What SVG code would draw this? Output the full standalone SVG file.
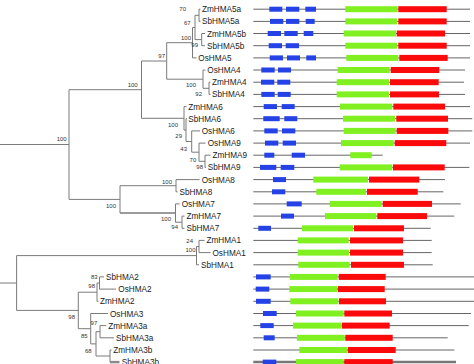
<svg xmlns="http://www.w3.org/2000/svg" width="474" height="364" viewBox="0 0 474 364">
<style>
.t{font-family:"Liberation Sans",Arial,sans-serif;font-size:8.2px;fill:#1a1a1a}
.b{font-family:"Liberation Sans",Arial,sans-serif;font-size:6px;fill:#333;text-anchor:end}
.e{stroke:#7a7a7a;stroke-width:1;fill:none}
.ln{stroke:#666;stroke-width:1}
.bl{fill:#2442e6}
.gr{fill:#80f020}
.rd{fill:#fa0a0a}
</style>
<rect width="474" height="364" fill="#fff"/>
<g id="connectors">
<path class="e" d="M0,144.5H69M69,89.7V199.4M69,89.7H141.5M69,199.4H120
M141.5,61V118.3M141.5,61H166.7M141.5,118.3H184
M166.7,42.7V79.2M166.7,42.7H192.5M166.7,79.2H203
M192.5,27.5V57.9M192.5,27.5H195M192.5,57.9H196.5
M195,15.3V39.6M195,15.3H199M195,39.6H201.7
M199,9.2V21.4M199,9.2H200.5M199,21.4H200.5
M201.7,33.5V45.7M201.7,33.5H205M201.7,45.7H205
M203,70.05V88.3M203,70.05H205.5M203,88.3H209
M209,82.2V94.4M209,82.2H210.5M209,94.4H210.5
M184,106.6V130.1M184,106.6H186.5M184,130.1H186
M186,118.7V141.5M186,118.7H187M186,141.5H191.7
M191.7,130.9V152.2M191.7,130.9H200M191.7,152.2H199
M199,143.1V161.3M199,143.1H205.5M199,161.3H205
M205,155.2V167.4M205,155.2H210.5M205,167.4H206
M120,185.7V213M120,185.7H176
M176,179.6V191.8M176,179.6H199.5M176,191.8H177.5
M175.5,203.9V222.2M175.5,203.9H179.5M175.5,222.2H182
M182,216.1V228.3M182,216.1H184.5M182,228.3H184.5
M0,283H16.6M16.6,255.6V310.4M16.6,255.6H196.5M16.6,310.4H78.3
M196.5,246.5V264.8M196.5,246.5H199M196.5,264.8H199
M199,240.4V252.6M199,240.4H204.5M199,252.6H210.5
M78.3,292.2V328.7M78.3,292.2H97M78.3,328.7H90.7
M97,283V301.3M97,283H99.5M97,301.3H98.5
M99.5,276.9V289.1M99.5,276.9H104M99.5,289.1H116
M90.7,313.5V343.9M90.7,313.5H108M90.7,343.9H96
M96,331.7V356M96,331.7H100M96,356H110
M100,325.6V337.8M100,325.6H106.3M100,337.8H114
M110,350V362.1M110,350H111.5"/>
<path class="e" style="stroke-width:1.5" d="M120,213H175.5"/>
<path d="M110,362.1H119.5" stroke="#8a8a8a" stroke-width="2.5"/>
</g>
<g id="bootstrap">
<text class="b" x="186" y="11">70</text>
<text class="b" x="190.7" y="24.8">67</text>
<text class="b" x="191" y="39.6">100</text>
<text class="b" x="198" y="47">99</text>
<text class="b" x="165" y="58">97</text>
<text class="b" x="137.7" y="86.5">100</text>
<text class="b" x="196" y="87">100</text>
<text class="b" x="202" y="95.5">92</text>
<text class="b" x="66.7" y="141.3">100</text>
<text class="b" x="178" y="126.7">100</text>
<text class="b" x="182" y="138.2">29</text>
<text class="b" x="187" y="150.7">43</text>
<text class="b" x="196.3" y="161.7">70</text>
<text class="b" x="203" y="168.7">98</text>
<text class="b" x="116" y="208">100</text>
<text class="b" x="172" y="183.5">100</text>
<text class="b" x="171" y="220.7">100</text>
<text class="b" x="178" y="229.3">94</text>
<text class="b" x="193" y="242.7">24</text>
<text class="b" x="195.5" y="252.3">100</text>
<text class="b" x="97.7" y="278.7">83</text>
<text class="b" x="95" y="287.7">98</text>
<text class="b" x="75" y="318.7">98</text>
<text class="b" x="97.3" y="325.3">97</text>
<text class="b" x="87.7" y="337.7">85</text>
<text class="b" x="91.7" y="353">68</text>
</g>
<g id="ZmHMA5a"><text class="t" x="202" y="12.2">ZmHMA5a</text><line class="ln" x1="253.3" y1="9.2" x2="470" y2="9.2"/><rect class="bl" x="269.3" y="6.7" width="13" height="5"/><rect class="bl" x="286" y="6.7" width="13.3" height="5"/><rect class="bl" x="305.3" y="6.7" width="10.7" height="5"/><rect class="gr" x="345.3" y="6.2" width="52.4" height="6"/><rect class="rd" x="398.3" y="6.2" width="48.4" height="6"/></g>
<g id="SbHMA5a"><text class="t" x="202" y="24.4">SbHMA5a</text><line class="ln" x1="253.3" y1="21.4" x2="470" y2="21.4"/><rect class="bl" x="270" y="18.9" width="13.3" height="5"/><rect class="bl" x="286" y="18.9" width="13.3" height="5"/><rect class="bl" x="305.7" y="18.9" width="9" height="5"/><rect class="gr" x="345.3" y="18.4" width="52" height="6"/><rect class="rd" x="398.3" y="18.4" width="48.4" height="6"/></g>
<g id="ZmHMA5b"><text class="t" x="207" y="36.5">ZmHMA5b</text><line class="ln" x1="253.3" y1="33.5" x2="470" y2="33.5"/><rect class="bl" x="267.7" y="31" width="13.3" height="5"/><rect class="bl" x="284.3" y="31" width="13.4" height="5"/><rect class="bl" x="303.7" y="31" width="9.6" height="5"/><rect class="gr" x="343.7" y="30.5" width="52.3" height="6"/><rect class="rd" x="396.7" y="30.5" width="48.3" height="6"/></g>
<g id="SbHMA5b"><text class="t" x="207" y="48.7">SbHMA5b</text><line class="ln" x1="253.3" y1="45.7" x2="470" y2="45.7"/><rect class="bl" x="268.7" y="43.2" width="13.3" height="5"/><rect class="bl" x="285.7" y="43.2" width="13.3" height="5"/><rect class="gr" x="345.3" y="42.7" width="52" height="6"/><rect class="rd" x="398.3" y="42.7" width="48.4" height="6"/></g>
<g id="OsHMA5"><text class="t" x="198.3" y="60.9">OsHMA5</text><line class="ln" x1="253.3" y1="57.9" x2="470" y2="57.9"/><rect class="bl" x="269.7" y="55.4" width="13.3" height="5"/><rect class="bl" x="287" y="55.4" width="13" height="5"/><rect class="bl" x="306.3" y="55.4" width="9.7" height="5"/><rect class="gr" x="346.3" y="54.9" width="52" height="6"/><rect class="rd" x="399.3" y="54.9" width="48.4" height="6"/></g>
<g id="OsHMA4"><text class="t" x="207.3" y="73">OsHMA4</text><line class="ln" x1="253.3" y1="70" x2="465" y2="70"/><rect class="bl" x="261.3" y="67.5" width="13.4" height="5"/><rect class="bl" x="278" y="67.5" width="13" height="5"/><rect class="gr" x="337.7" y="67" width="52" height="6"/><rect class="rd" x="390.7" y="67" width="48.6" height="6"/></g>
<g id="ZmHMA4"><text class="t" x="212" y="85.2">ZmHMA4</text><line class="ln" x1="253.3" y1="82.2" x2="464" y2="82.2"/><rect class="bl" x="261" y="79.7" width="13.3" height="5"/><rect class="bl" x="277.3" y="79.7" width="13" height="5"/><rect class="gr" x="336.7" y="79.2" width="52.3" height="6"/><rect class="rd" x="390" y="79.2" width="48.7" height="6"/></g>
<g id="SbHMA4"><text class="t" x="212" y="97.4">SbHMA4</text><line class="ln" x1="253.3" y1="94.4" x2="465" y2="94.4"/><rect class="bl" x="261.3" y="91.9" width="13.4" height="5"/><rect class="bl" x="277.7" y="91.9" width="13" height="5"/><rect class="gr" x="336.7" y="91.4" width="52.3" height="6"/><rect class="rd" x="390" y="91.4" width="49" height="6"/></g>
<g id="ZmHMA6"><text class="t" x="188.3" y="109.6">ZmHMA6</text><line class="ln" x1="253.3" y1="106.6" x2="470" y2="106.6"/><rect class="bl" x="263.7" y="104.1" width="13.3" height="5"/><rect class="bl" x="281.7" y="104.1" width="13" height="5"/><rect class="gr" x="340" y="103.6" width="52.3" height="6"/><rect class="rd" x="393.3" y="103.6" width="51.7" height="6"/></g>
<g id="SbHMA6"><text class="t" x="188.3" y="121.7">SbHMA6</text><line class="ln" x1="253.3" y1="118.7" x2="472.3" y2="118.7"/><rect class="bl" x="263.3" y="116.2" width="16.4" height="5"/><rect class="bl" x="284.3" y="116.2" width="13" height="5"/><rect class="gr" x="343" y="115.7" width="52" height="6"/><rect class="rd" x="396.3" y="115.7" width="51.7" height="6"/></g>
<g id="OsHMA6"><text class="t" x="201.7" y="133.9">OsHMA6</text><line class="ln" x1="253.3" y1="130.9" x2="472.3" y2="130.9"/><rect class="bl" x="264.3" y="128.4" width="13.4" height="5"/><rect class="bl" x="282" y="128.4" width="13.3" height="5"/><rect class="gr" x="343.7" y="127.9" width="52" height="6"/><rect class="rd" x="396.7" y="127.9" width="51.6" height="6"/></g>
<g id="OsHMA9"><text class="t" x="207.7" y="146.1">OsHMA9</text><line class="ln" x1="253.3" y1="143.1" x2="470" y2="143.1"/><rect class="bl" x="265" y="140.6" width="13.3" height="5"/><rect class="bl" x="282.7" y="140.6" width="13.3" height="5"/><rect class="gr" x="341" y="140.1" width="52.7" height="6"/><rect class="rd" x="394.7" y="140.1" width="51.6" height="6"/></g>
<g id="ZmHMA9"><text class="t" x="212.5" y="158.2">ZmHMA9</text><line class="ln" x1="253.3" y1="155.2" x2="382.7" y2="155.2"/><rect class="bl" x="264.3" y="152.7" width="10" height="5"/><rect class="bl" x="291.7" y="152.7" width="13.3" height="5"/><rect class="gr" x="350.3" y="152.2" width="21.4" height="6"/></g>
<g id="SbHMA9"><text class="t" x="207.7" y="170.4">SbHMA9</text><line class="ln" x1="253.3" y1="167.4" x2="469.3" y2="167.4"/><rect class="bl" x="260" y="164.9" width="16.3" height="5"/><rect class="bl" x="280.7" y="164.9" width="13.6" height="5"/><rect class="gr" x="339.7" y="164.4" width="52.6" height="6"/><rect class="rd" x="393" y="164.4" width="51.7" height="6"/></g>
<g id="OsHMA8"><text class="t" x="201.7" y="182.6">OsHMA8</text><line class="ln" x1="253.3" y1="179.6" x2="445" y2="179.6"/><rect class="bl" x="273" y="177.1" width="13" height="5"/><rect class="gr" x="313.3" y="176.6" width="54.7" height="6"/><rect class="rd" x="369" y="176.6" width="50.3" height="6"/></g>
<g id="SbHMA8"><text class="t" x="179.5" y="194.8">SbHMA8</text><line class="ln" x1="253.3" y1="191.8" x2="443.3" y2="191.8"/><rect class="bl" x="272" y="189.3" width="13.3" height="5"/><rect class="gr" x="316.3" y="188.8" width="49.7" height="6"/><rect class="rd" x="367" y="188.8" width="50.7" height="6"/></g>
<g id="OsHMA7"><text class="t" x="181.7" y="206.9">OsHMA7</text><line class="ln" x1="253.3" y1="203.9" x2="460.7" y2="203.9"/><rect class="bl" x="286.7" y="201.4" width="15" height="5"/><rect class="gr" x="330" y="200.9" width="51.7" height="6"/><rect class="rd" x="382.7" y="200.9" width="49.3" height="6"/></g>
<g id="ZmHMA7"><text class="t" x="186.5" y="219.1">ZmHMA7</text><line class="ln" x1="253.3" y1="216.1" x2="454.3" y2="216.1"/><rect class="bl" x="281" y="213.6" width="13" height="5"/><rect class="gr" x="325" y="213.1" width="51.3" height="6"/><rect class="rd" x="377.3" y="213.1" width="49.7" height="6"/></g>
<g id="SbHMA7"><text class="t" x="186.5" y="231.3">SbHMA7</text><line class="ln" x1="253.3" y1="228.3" x2="430.7" y2="228.3"/><rect class="bl" x="258.3" y="225.8" width="12.7" height="5"/><rect class="gr" x="302" y="225.3" width="51" height="6"/><rect class="rd" x="354" y="225.3" width="50" height="6"/></g>
<g id="ZmHMA1"><text class="t" x="206.5" y="243.4">ZmHMA1</text><line class="ln" x1="253.3" y1="240.4" x2="431.7" y2="240.4"/><rect class="gr" x="297.7" y="237.4" width="51" height="6"/><rect class="rd" x="350" y="237.4" width="53" height="6"/></g>
<g id="OsHMA1"><text class="t" x="212.5" y="255.6">OsHMA1</text><line class="ln" x1="253.3" y1="252.6" x2="431.7" y2="252.6"/><rect class="gr" x="297.7" y="249.6" width="51.3" height="6"/><rect class="rd" x="350" y="249.6" width="53" height="6"/></g>
<g id="SbHMA1"><text class="t" x="201" y="267.8">SbHMA1</text><line class="ln" x1="253.3" y1="264.8" x2="432.7" y2="264.8"/><rect class="gr" x="298.3" y="261.8" width="51.4" height="6"/><rect class="rd" x="351" y="261.8" width="53" height="6"/></g>
<g id="SbHMA2"><text class="t" x="106" y="279.9">SbHMA2</text><line class="ln" x1="253.3" y1="276.9" x2="474" y2="276.9"/><rect class="bl" x="256" y="274.4" width="14.7" height="5"/><rect class="gr" x="290" y="273.9" width="47.7" height="6"/><rect class="rd" x="338.7" y="273.9" width="47" height="6"/></g>
<g id="OsHMA2"><text class="t" x="118.3" y="292.1">OsHMA2</text><line class="ln" x1="253.3" y1="289.1" x2="474" y2="289.1"/><rect class="bl" x="255.7" y="286.6" width="13.6" height="5"/><rect class="gr" x="289.3" y="286.1" width="47.7" height="6"/><rect class="rd" x="337.7" y="286.1" width="47" height="6"/></g>
<g id="ZmHMA2"><text class="t" x="100" y="304.3">ZmHMA2</text><line class="ln" x1="253.3" y1="301.3" x2="474" y2="301.3"/><rect class="bl" x="256" y="298.8" width="14.7" height="5"/><rect class="gr" x="290.3" y="298.3" width="48" height="6"/><rect class="rd" x="339" y="298.3" width="47" height="6"/></g>
<g id="OsHMA3"><text class="t" x="110" y="316.5">OsHMA3</text><line class="ln" x1="253.3" y1="313.5" x2="471" y2="313.5"/><rect class="bl" x="263" y="311" width="13.7" height="5"/><rect class="gr" x="296" y="310.5" width="47.7" height="6"/><rect class="rd" x="344.3" y="310.5" width="47.7" height="6"/></g>
<g id="ZmHMA3a"><text class="t" x="108.3" y="328.6">ZmHMA3a</text><line class="ln" x1="253.3" y1="325.6" x2="468.7" y2="325.6"/><rect class="bl" x="260.3" y="323.1" width="13.4" height="5"/><rect class="gr" x="293" y="322.6" width="48.7" height="6"/><rect class="rd" x="342" y="322.6" width="47.7" height="6"/></g>
<g id="SbHMA3a"><text class="t" x="116" y="340.8">SbHMA3a</text><line class="ln" x1="253.3" y1="337.8" x2="447.7" y2="337.8"/><rect class="bl" x="263.7" y="335.3" width="11" height="5"/><rect class="gr" x="297" y="334.8" width="47.7" height="6"/><rect class="rd" x="345.3" y="334.8" width="47.4" height="6"/></g>
<g id="ZmHMA3b"><text class="t" x="113.3" y="353">ZmHMA3b</text><line class="ln" x1="253.3" y1="350" x2="454.3" y2="350"/><rect class="gr" x="299.3" y="347" width="47.7" height="6"/><rect class="rd" x="347.7" y="347" width="48" height="6"/></g>
<g id="SbHMA3b"><text class="t" x="121.7" y="365.1">SbHMA3b</text><line x1="253.3" y1="362.1" x2="456" y2="362.1" stroke="#777" stroke-width="2.5"/><rect class="bl" x="262.7" y="359.6" width="13.6" height="5"/><rect class="gr" x="296" y="359.1" width="47.7" height="6"/><rect class="rd" x="344.3" y="359.1" width="48.4" height="6"/></g>
</svg>
